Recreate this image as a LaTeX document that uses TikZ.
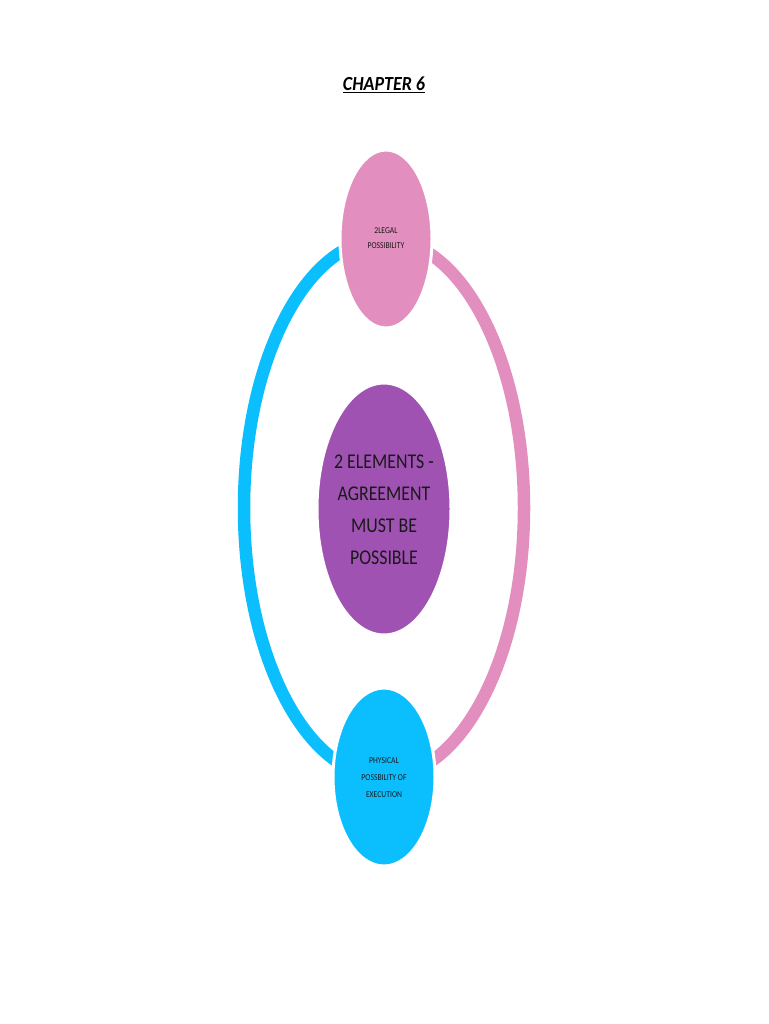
\documentclass[tikz,border=0pt]{standalone}
\usepackage{fontspec}
\setmainfont{Carlito}
\usetikzlibrary{shapes.geometric}
\definecolor{pk}{HTML}{E28FBF}
\definecolor{bl}{HTML}{0BBFFF}
\definecolor{pu}{HTML}{A052B3}
\begin{document}
\begin{tikzpicture}[x=1pt,y=-1pt,
  bub/.style={ellipse,draw=white,line width=3pt,inner sep=0pt},
  lab/.style={align=center,inner sep=0pt,text=black!90,xscale=0.85}]
\useasboundingbox (0,0) rectangle (768,1024);
\node[font=\bfseries\itshape\fontsize{20}{22}\selectfont,xscale=0.9] (t) at (384,85) {\underline{CHAPTER 6}};
\draw[bl,line width=12.5pt] (384,239) arc[start angle=-90,end angle=-270,x radius=140,y radius=269];
\draw[pk,line width=12.5pt] (384,239) arc[start angle=-90,end angle=90,x radius=140,y radius=269];
\node[bub,fill=pk,minimum width=92,minimum height=178] (a) at (386,239) {};
\node[lab,font=\fontsize{9}{15}\selectfont] (at) at (386,238) {2LEGAL\\POSSIBILITY};
\node[bub,fill=pu,minimum width=134,minimum height=252] (c) at (384,509) {};
\node[lab,font=\fontsize{21}{32}\selectfont] (ct) at (384,510) {2 ELEMENTS -\\AGREEMENT\\MUST BE\\POSSIBLE};
\node[bub,fill=bl,minimum width=102,minimum height=178] (b) at (384,777) {};
\node[lab,font=\fontsize{9}{17}\selectfont] (bt) at (384,778) {PHYSICAL\\POSSBILITY OF\\EXECUTION};
\end{tikzpicture}
\end{document}
